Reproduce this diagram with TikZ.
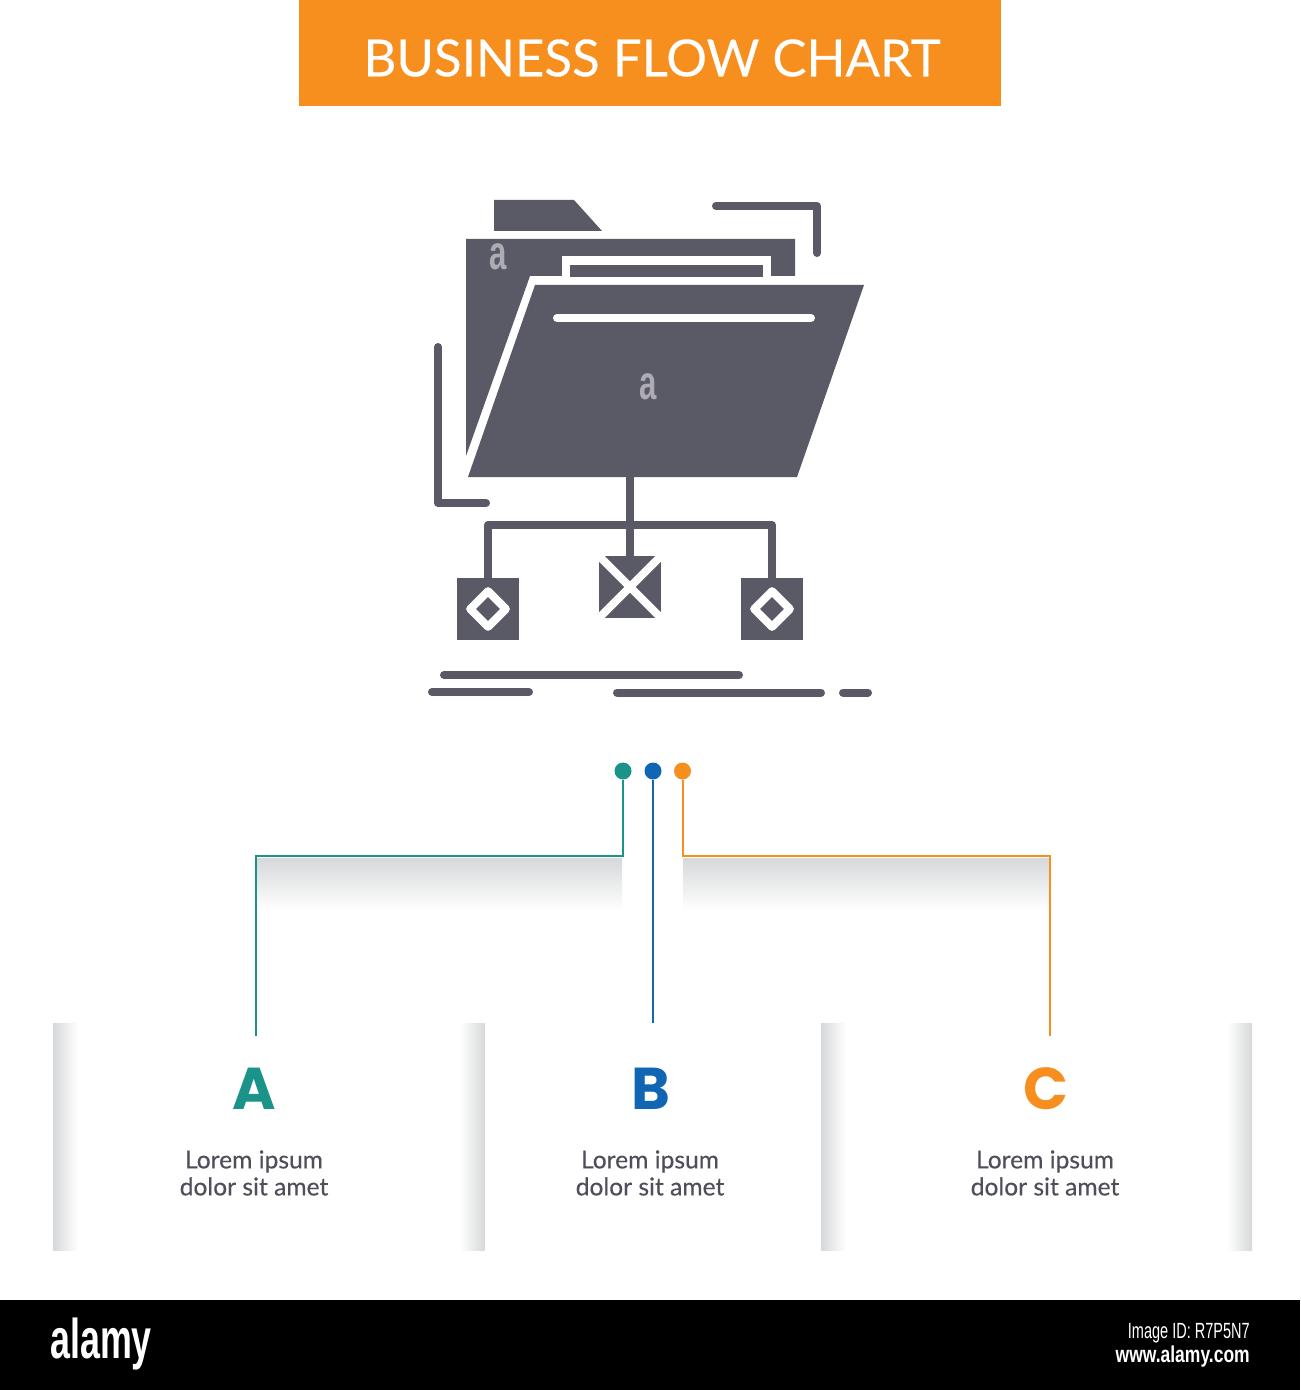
\documentclass[tikz,border=0pt]{standalone}
\usepackage{fontspec}
\setmainfont{Lato}
\newfontfamily\headfont[FakeBold=0.25]{Lato}
\newfontfamily\letterfont{Poppins}
\newfontfamily\footfont{Liberation Sans}
\usetikzlibrary{shapes.geometric}
\definecolor{slate}{HTML}{5A5966}
\definecolor{textgrey}{HTML}{4F4E5B}
\definecolor{orangec}{HTML}{F78F1E}
\definecolor{tealc}{HTML}{1A9488}
\definecolor{bluec}{HTML}{1066B2}
\definecolor{shadec}{HTML}{D6D8D9}
\tikzset{
  glyph/.style={line width=4pt,draw=slate,line cap=round,line join=round},
  linkline/.style={line width=4pt,draw=slate,line join=round},
  sqbox/.style={rectangle,fill=slate,minimum size=31pt},
  gem/.style={diamond,draw=white,line width=4pt,fill=slate,minimum size=19.5pt,line join=round},
  dot/.style={circle,minimum size=8.5pt},
  wire/.style={line width=1pt},
  letter/.style={font=\letterfont\bfseries\fontsize{29.5}{29.5}\selectfont},
  blurb/.style={font=\headfont\fontsize{12.3}{13.5}\selectfont,text=textgrey,align=center},
  wmark/.style={font=\footfont\bfseries\fontsize{24}{24}\selectfont,text=white,opacity=0.5,xscale=0.65,transform shape}
}
\begin{document}
\begin{tikzpicture}[x=0.5pt,y=-0.5pt]
\tikzstyle{every node}+=[inner sep=0pt]
\useasboundingbox (0,0) rectangle (1300,1390);
\fill [white] (0,0) rectangle (1300,1390);
\fill [orangec] (299,0) rectangle (1001,106);
\node (title) [text=white,font=\headfont\fontsize{25.5}{25.5}\selectfont] at (652,58) {BUSINESS FLOW CHART};
\fill [slate] (494,200) -- (574,200) -- (602,231) -- (494,231) -- cycle;
\fill [slate] (466,239) -- (795,239) -- (795,276) -- (530,276) -- (466,456) -- cycle;
\fill [white] (562,256) rectangle (771,277);
\fill [slate] (570,265) rectangle (763,277);
\fill [slate] (535,285) -- (864,285) -- (797,477) -- (468,477) -- cycle;
\draw [white,line width=4pt,line cap=round] (557,318) -- (811,318);
\draw [glyph] (716,206) -- (817,206) -- (817,253);
\draw [glyph] (438,347) -- (438,503) -- (486,503);
\node (wmarkback) [wmark] at (498,257) {a};
\node (wmarkfront) [wmark] at (648,387) {a};
\coordinate (foot) at (630,477);
\coordinate (hub) at (630,525);
\node (boxl) [sqbox] at (488,609) {};
\node (boxr) [sqbox] at (772,609) {};
\node (boxm) [sqbox] at (630,587) {};
\node (geml) [gem] at (488,609) {};
\node (gemr) [gem] at (772,609) {};
\draw [white,line width=4pt] (boxm.north west) -- (boxm.south east);
\draw [white,line width=4pt] (boxm.north east) -- (boxm.south west);
\draw [linkline] (foot) -- (boxm.north);
\draw [linkline] (boxl.north) |- (hub) -| (boxr.north);
\draw [glyph] (444,675) -- (739,675);
\draw [glyph] (432,692) -- (529,692);
\draw [glyph] (617,692.5) -- (821,692.5);
\draw [glyph] (843,692.5) -- (868,692.5);
\shade [top color=shadec,bottom color=white] (257,858) rectangle (622,910);
\shade [top color=shadec,bottom color=white] (683,858) rectangle (1049,910);
\node (dota) [dot,fill=tealc] at (623,771) {};
\node (dotb) [dot,fill=bluec] at (653,771) {};
\node (dotc) [dot,fill=orangec] at (682.5,771) {};
\coordinate (enda) at (255.5,1036);
\coordinate (endb) at (653,1023);
\coordinate (endc) at (1050,1036);
\coordinate (turna) at (255.5,856);
\coordinate (turnc) at (1050,856);
\draw [wire,tealc] (dota) |- (turna) -- (enda);
\draw [wire,bluec] (dotb) -- (endb);
\draw [wire,orangec] (dotc) |- (turnc) -- (endc);
\shade [left color=shadec,right color=white] (53,1023) rectangle (78,1250);
\shade [left color=white,right color=shadec] (460,1023) rectangle (485,1250);
\shade [left color=shadec,right color=white] (821,1023) rectangle (846,1250);
\shade [left color=white,right color=shadec] (1227,1023) rectangle (1252,1250);
\node (lettera) [letter,text=tealc] at (254,1089) {A};
\node (letterb) [letter,text=bluec] at (651,1089) {B};
\node (letterc) [letter,text=orangec] at (1046,1089) {C};
\node (blurba) [blurb] at (254,1173) {Lorem ipsum\\dolor sit amet};
\node (blurbb) [blurb] at (650,1173) {Lorem ipsum\\dolor sit amet};
\node (blurbc) [blurb] at (1045,1173) {Lorem ipsum\\dolor sit amet};
\fill [black] (0,1300) rectangle (1300,1390);
\node (brand) [anchor=base west,text=white,xscale=0.64,transform shape,font=\footfont\bfseries\fontsize{28}{28}\selectfont] at (50,1358) {alamy};
\node (imageid) [anchor=base east,text=white,xscale=0.66,transform shape,font=\footfont\fontsize{11}{11}\selectfont] at (1250,1338) {Image ID: R7P5N7};
\node (site) [anchor=base east,text=white,xscale=0.76,transform shape,font=\footfont\bfseries\fontsize{11.5}{11.5}\selectfont] at (1250,1362) {www.alamy.com};
\end{tikzpicture}
\end{document}
